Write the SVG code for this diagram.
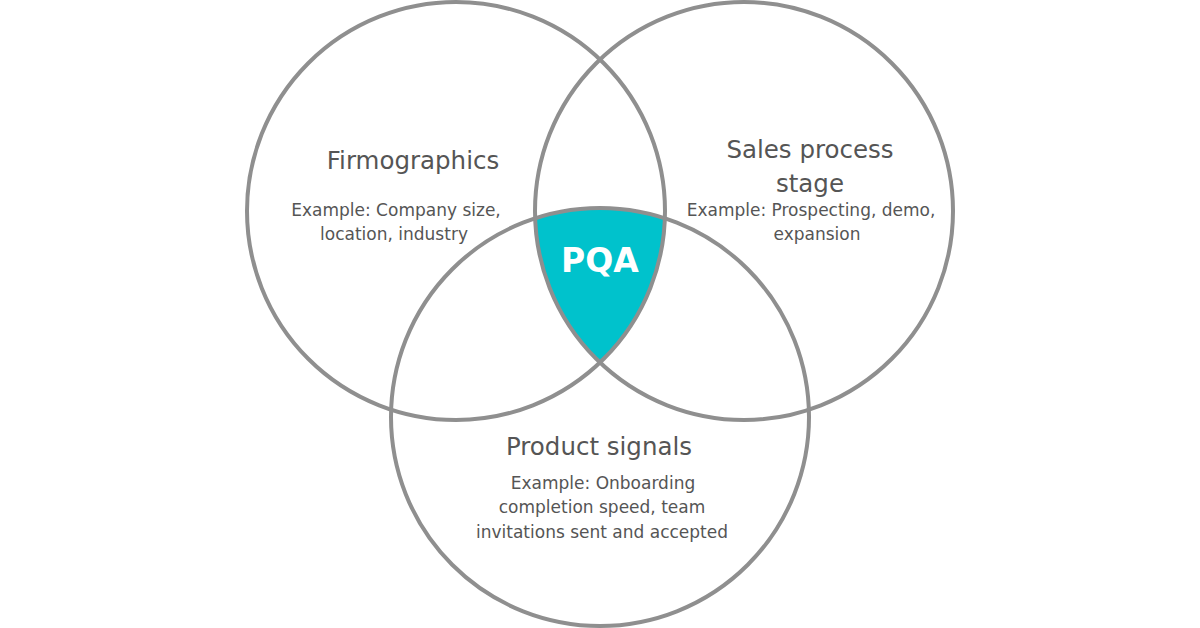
<svg xmlns="http://www.w3.org/2000/svg" width="1200" height="628" viewBox="0 0 1200 628">
<style>
.c{fill:none;stroke:#8f8f8f;stroke-width:4}
.t{font-family:"DejaVu Sans","Open Sans",sans-serif;fill:#555;text-anchor:middle}
.h{font-size:24.5px}
.s{font-size:17px}
</style>
<rect width="1200" height="628" fill="#fff"/>
<g id="pqa">
<path d="M535,218 A209,209 0 0 1 665,218 A209,209 0 0 1 600,362.5 A209,209 0 0 1 535,218 Z" fill="#00c2cc"/>
<text class="t" x="600" y="272" style="fill:#fff;font-weight:700;font-size:33px">PQA</text>
</g>
<g id="connectors">
<circle class="c" cx="456" cy="211" r="209"/>
<circle class="c" cx="744" cy="211" r="209"/>
<circle class="c" cx="600" cy="417" r="209"/>
</g>
<g id="firmographics">
<text class="t h" x="413" y="169">Firmographics</text>
<text class="t s" x="396" y="216">Example: Company size,</text>
<text class="t s" x="394" y="240">location, industry</text>
</g>
<g id="sales">
<text class="t h" x="810" y="158">Sales process</text>
<text class="t h" x="810" y="192">stage</text>
<text class="t s" x="811" y="216">Example: Prospecting, demo,</text>
<text class="t s" x="817" y="240">expansion</text>
</g>
<g id="product">
<text class="t h" x="599" y="455">Product signals</text>
<text class="t s" x="603" y="489">Example: Onboarding</text>
<text class="t s" x="602" y="513">completion speed, team</text>
<text class="t s" x="602" y="538">invitations sent and accepted</text>
</g>
</svg>
